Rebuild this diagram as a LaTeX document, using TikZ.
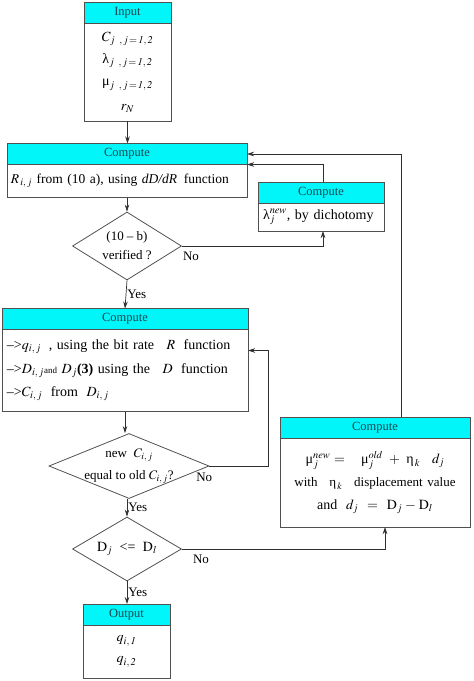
\documentclass[tikz,border=0pt]{standalone}
\usepackage{mathptmx}
\usepackage{fontspec}
\setmainfont{Liberation Serif}
\usepackage{tikz}
\usetikzlibrary{
  shapes.geometric,
  arrows.meta,
  positioning
}
\usepackage{xcolor}
\definecolor{headcyan}{HTML}{00F6F8}
\definecolor{headtext}{HTML}{1A4550}
\definecolor{boxgray}{HTML}{505050}
\definecolor{linegray}{HTML}{303030}
% upright greek, as in the figure
\newcommand{\glam}{\textup{λ}}
\newcommand{\gmu}{\textup{μ}}
\newcommand{\geta}{\textup{η}}
\tikzset{
  head/.style={
    rectangle, draw=boxgray, fill=headcyan, outer sep=0pt, inner sep=0pt,
    minimum width=#1, minimum height=21bp,
    font=\fontsize{12.5bp}{14bp}\selectfont, text=headtext, line width=0.8pt
  },
  body/.style={
    rectangle, draw=boxgray, fill=white, outer sep=0pt,
    inner xsep=5bp, inner ysep=0pt, text width=#1,
    font=\fontsize{14bp}{22bp}\selectfont, line width=0.8pt
  },
  test/.style={
    diamond, draw=boxgray, inner sep=0pt, line width=0.8pt,
    minimum width=#1
  },
  arrow/.style={-{Stealth[length=7bp, width=4.5bp]}, draw=linegray, line width=0.7pt},
  lbl/.style={font=\fontsize{13bp}{14bp}\selectfont, inner sep=1bp},
}

\begin{document}
\begin{tikzpicture}[
  x=1bp, y=-1bp,
  dtext/.style={font=\fontsize{13bp}{19bp}\selectfont, align=center},
]
\useasboundingbox (0,0) rectangle (474,681);

% Input
\node[head=87bp] (inh) at (127.5,12.5) {Input};
\node[body=77bp, align=center, minimum height=98bp, below=0pt of inh] (inb)
  {$C_{j\;\;,\,j\,=\,\mathit{1},\,\mathit{2}}$\\
   $\glam_{j\;\;,\,j\,=\,\mathit{1},\,\mathit{2}}$\\
   $\gmu_{j\;\;,\,j\,=\,\mathit{1},\,\mathit{2}}$\\[3bp]
   $r_N$};

% Compute R
\node[head=240bp] (c1h) at (127,154) {Compute};
\node[body=232bp, inner xsep=4bp, align=left, minimum height=33bp, below=0pt of c1h,
  font=\fontsize{13.5bp}{16bp}\selectfont] (c1b)
  {$R_{\,i,\,j}$ from (10 a), using \textit{dD/dR}\, function};
\draw[arrow] (inb.south) -- (inb.south |- c1h.north);

% dichotomy on lambda
\node[head=126bp] (lamh) at (321,192.5) {Compute};
\node[body=116bp, align=left, minimum height=28bp, below=0pt of lamh] (lamb)
  {$\glam_j^{\mathit{new}}$, by dichotomy};

\node[test=109bp, minimum height=68bp,
  label={[dtext]center:{(10 -- b)\\verified ?}}] (verif) at (127,246) {};
\draw[arrow] (c1b.south) -- (verif.north);
\draw[arrow] (verif.east) -| ([xshift=2bp]lamb.south);
\node[lbl, below right=5bp and 0pt of verif.east] {No};
\draw[arrow] ([xshift=2bp]lamh.north) |- (c1b.north east);

% Compute q, D, C
\node[head=246bp] (c2h) at (125,319) {Compute};
\node[body=236bp, align=left, minimum height=82bp, below=0pt of c2h,
  font=\fontsize{14bp}{23.5bp}\selectfont] (c2b)
  {--{}>$q_{i,\,j}$\;\;, using the bit rate\;\; $R$\; function\\
   --{}>$D_{i,\,j}${\small and} $D_j$\textbf{(3)} using the\;\; $D$\; function\\
   --{}>$C_{i,\,j}$\; from\; $D_{i,\,j}$};
\draw[arrow] (verif.south) -- (c2h.north)
  node[lbl, midway, right] {Yes};

\node[test=160bp, minimum height=65bp,
  label={[dtext, font=\fontsize{13bp}{22bp}\selectfont]center:{new\; $C_{i,\,j}$\\equal to old $C_{i,\,j}$?}}] (equal) at (129,466) {};
\draw[arrow] (c2b.south) -- (c2b.south |- equal.north);
\draw[arrow] (equal.east) -- ++(59,0) |- ([yshift=-21bp]c2b.north east);
\node[lbl, below left=6bp and -4bp of equal.east] {No};

% stop test
\node[test=109bp, minimum height=64bp,
  label={[dtext, font=\fontsize{14bp}{19bp}\selectfont]center:{$\mathrm{D}_j$\; <=\; $\mathrm{D}_l$}}] (dtest) at (127,549) {};
\draw[arrow] (equal.south -| dtest.north) -- (dtest.north)
  node[lbl, midway, right] {Yes};

% update mu
\node[head=190bp] (muh) at (375,427.5) {Compute};
\node[body=180bp, align=center, minimum height=89bp, below=0pt of muh,
  font=\fontsize{14bp}{23bp}\selectfont] (mub)
  {$\gmu_j^{\mathit{new}}=\;\;\;\gmu_j^{\mathit{old}}\;+\;\geta_{\,k}\;\;\;d_j$\\
   {\fontsize{13bp}{23bp}\selectfont with\;\; $\geta_{\,k}$\;\; displacement value}\\
   and\; $d_j\;=\;\mathrm{D}_j-\mathrm{D}_l$};
\draw[arrow] (dtest.east) -| ([xshift=10bp]mub.south);
\node[lbl, below right=5bp and 10bp of dtest.east] {No};
\draw[arrow] ([xshift=26bp]muh.north) |- (c1h.east);

% Output
\node[head=87bp] (outh) at (126.5,614.5) {Output};
\node[body=77bp, align=center, minimum height=53bp, below=0pt of outh,
  font=\fontsize{14bp}{21bp}\selectfont] (outb)
  {$q_{i,\,\mathit{1}}$\\ $q_{i,\,\mathit{2}}$};
\draw[arrow] (dtest.south) -- (dtest.south |- outh.north)
  node[lbl, midway, right] {Yes};

\end{tikzpicture}
\end{document}
